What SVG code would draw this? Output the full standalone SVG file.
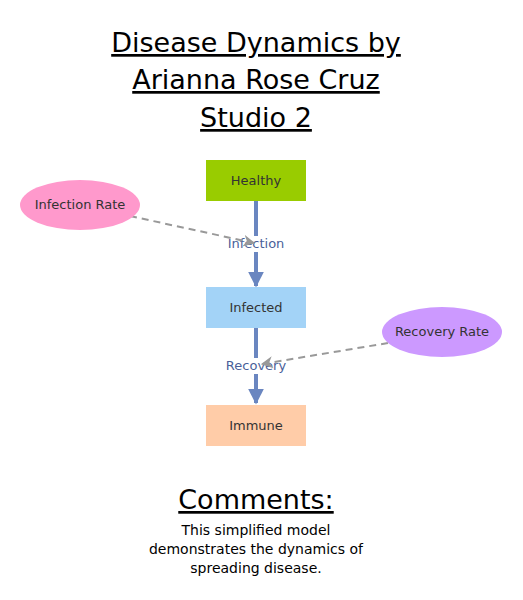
<svg xmlns="http://www.w3.org/2000/svg" width="523" height="600" viewBox="0 0 523 600">
<style>
.t{font-family:"Comic Sans MS","DejaVu Sans",sans-serif;text-anchor:middle;fill:#000}
.title{font-size:27px;text-decoration:underline}
.body{font-size:14px}
.nl{font-family:"Comic Sans MS","DejaVu Sans",sans-serif;font-size:13px;fill:#333;text-anchor:middle}
.el{font-family:"Comic Sans MS","DejaVu Sans",sans-serif;font-size:13px;fill:#4a5f9a;text-anchor:middle}
.flow{stroke:#6a86c0;stroke-width:4;fill:none}
.dash{stroke:#999;stroke-width:2;stroke-dasharray:7,5;fill:none}
</style>
<defs>
<marker id="ab" viewBox="0 0 10 10" refX="9" refY="5" markerWidth="4" markerHeight="4" orient="auto" markerUnits="strokeWidth"><path d="M0,0 L10,5 L0,10 z" fill="#6a86c0"/></marker>
<marker id="ag" viewBox="0 0 10 10" refX="9" refY="5" markerWidth="6" markerHeight="6" orient="auto" markerUnits="strokeWidth"><path d="M0,0 L10,5 L0,10 L3,5 z" fill="#999"/></marker>
</defs>
<rect width="523" height="600" fill="#fff"/>
<g id="title">
<text class="t title" x="256" y="52">Disease Dynamics by</text>
<text class="t title" x="256" y="89">Arianna Rose Cruz</text>
<text class="t title" x="256" y="127">Studio 2</text>
</g>
<g id="connectors">
<line class="flow" x1="256" y1="200" x2="256" y2="286" marker-end="url(#ab)"/>
<line class="flow" x1="256" y1="327" x2="256" y2="403" marker-end="url(#ab)"/>
<rect x="225" y="236" width="62" height="16" fill="#fff"/>
<text class="el" x="256" y="248">Infection</text>
<rect x="226" y="358" width="60" height="16" fill="#fff"/>
<text class="el" x="256" y="370">Recovery</text>
<line class="dash" x1="130" y1="216" x2="254" y2="243" marker-end="url(#ag)"/>
<line class="dash" x1="388" y1="343" x2="262" y2="364" marker-end="url(#ag)"/>
</g>
<g id="healthy">
<rect x="206" y="160" width="100" height="41" fill="#99cc00"/>
<text class="nl" x="256" y="185">Healthy</text>
</g>
<g id="infected">
<rect x="206" y="287" width="100" height="41" fill="#a3d3f7"/>
<text class="nl" x="256" y="312">Infected</text>
</g>
<g id="immune">
<rect x="206" y="405" width="100" height="41" fill="#ffcca8"/>
<text class="nl" x="256" y="430">Immune</text>
</g>
<g id="infection-rate">
<ellipse cx="80" cy="205" rx="60" ry="25" fill="#ff99cc"/>
<text class="nl" x="80" y="209">Infection Rate</text>
</g>
<g id="recovery-rate">
<ellipse cx="442" cy="332" rx="60" ry="25" fill="#cc99ff"/>
<text class="nl" x="442" y="336">Recovery Rate</text>
</g>
<g id="comments">
<text class="t title" x="256" y="509">Comments:</text>
<text class="t body" x="256" y="535">This simplified model</text>
<text class="t body" x="256" y="554">demonstrates the dynamics of</text>
<text class="t body" x="256" y="573">spreading disease.</text>
</g>
</svg>
